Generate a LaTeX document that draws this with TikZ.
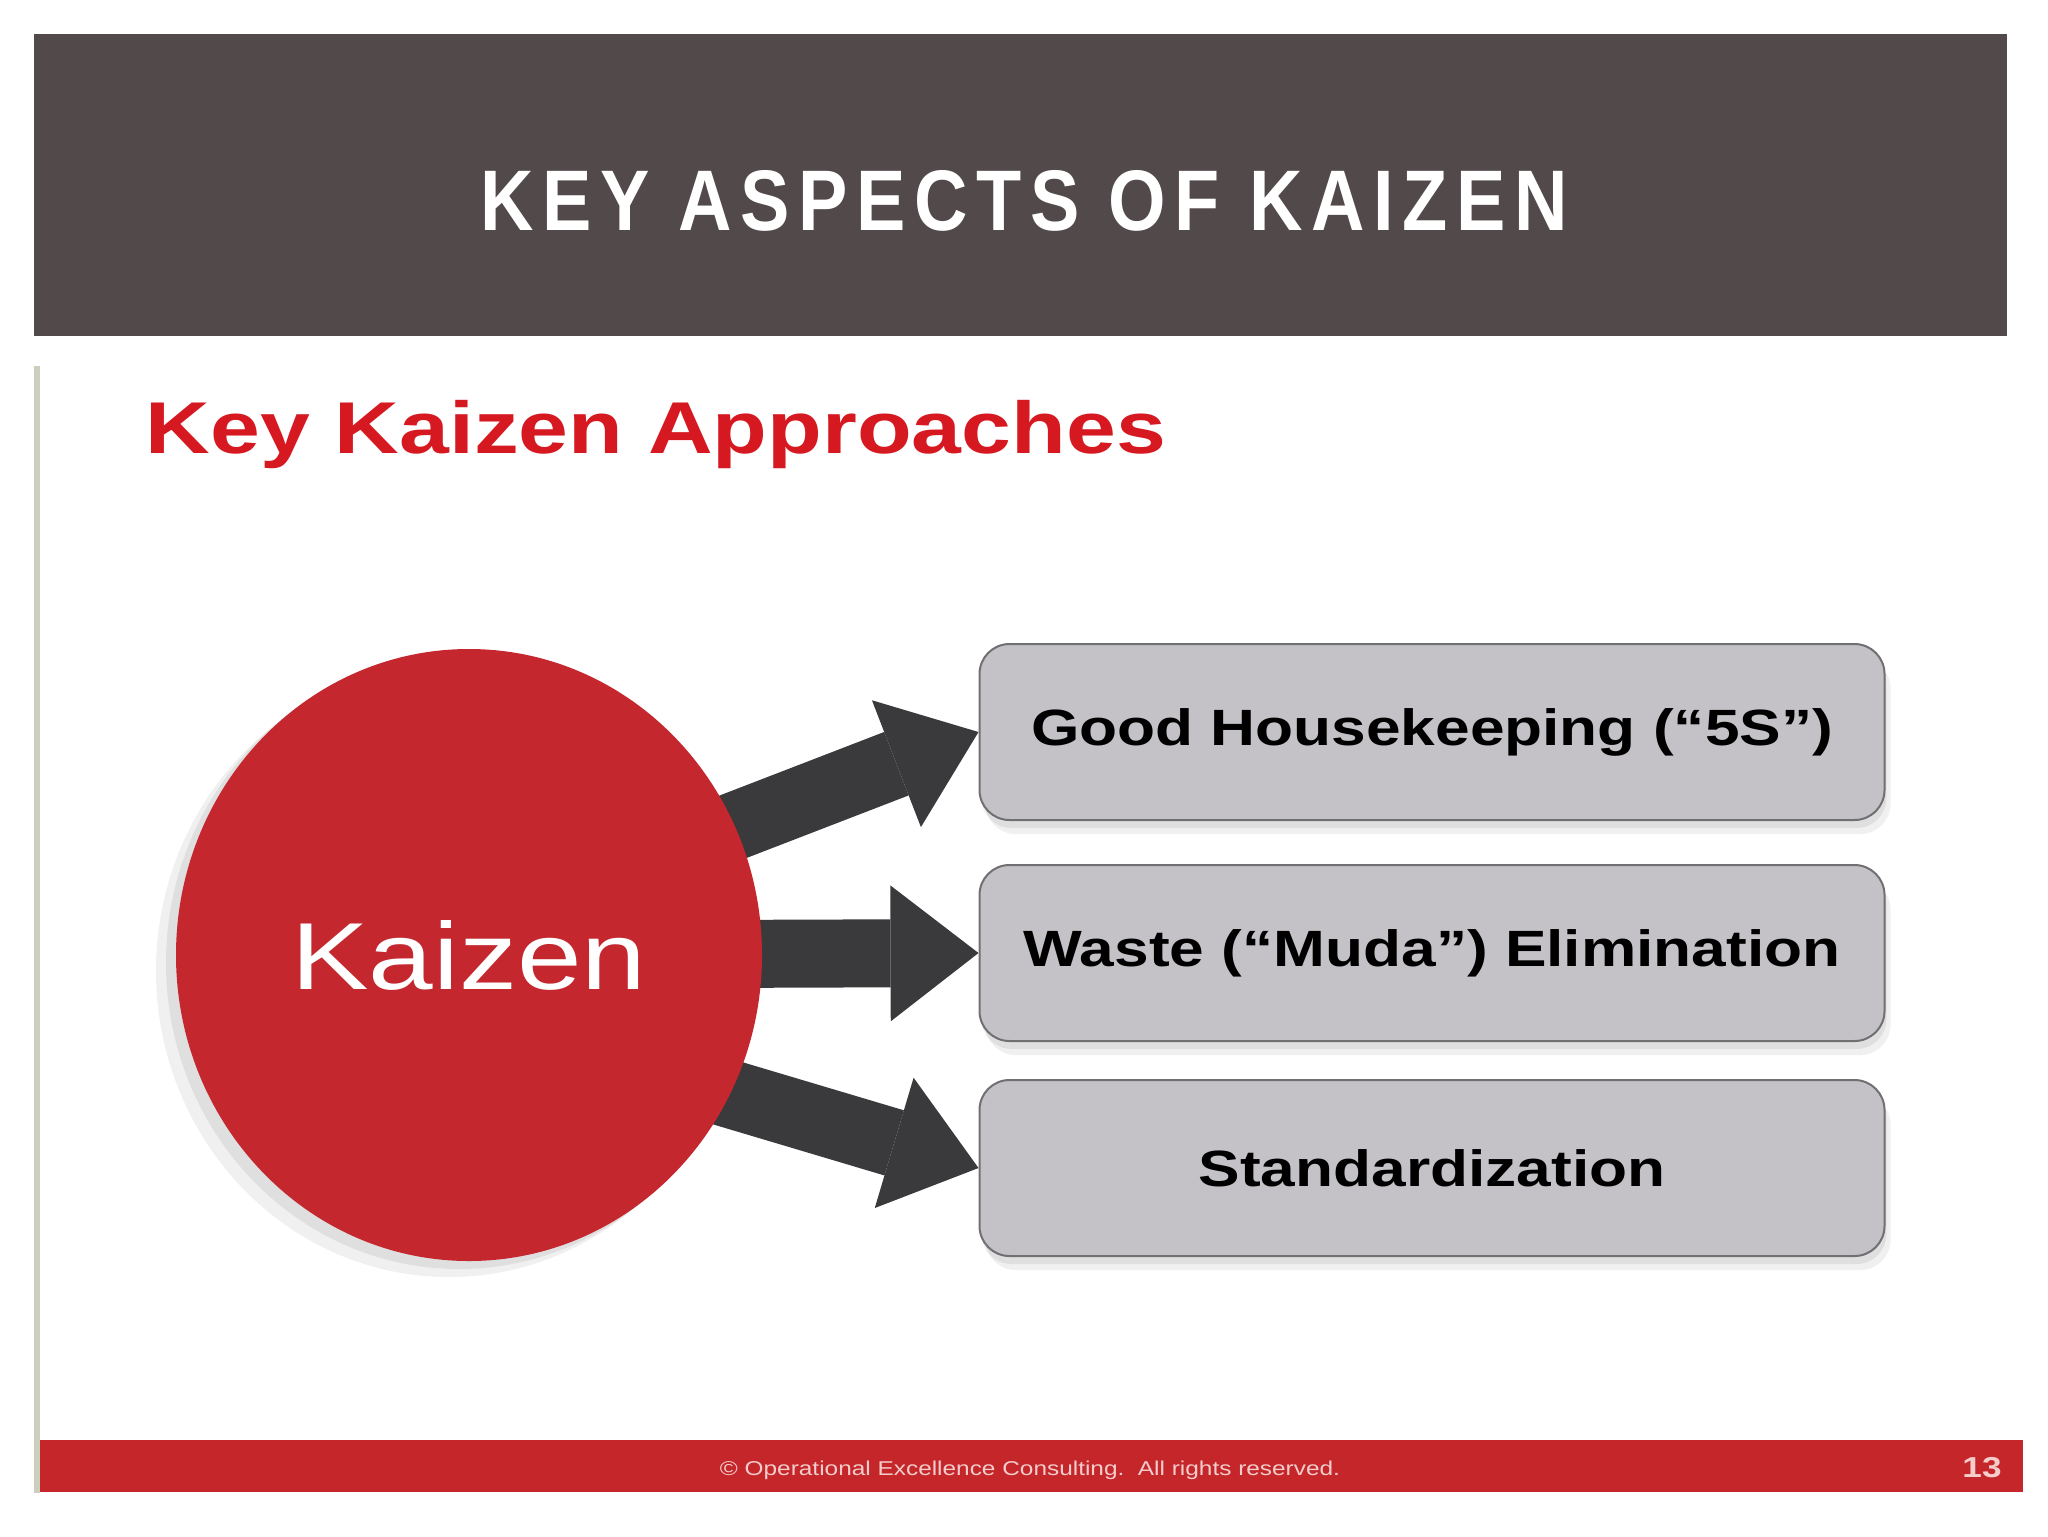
\documentclass[tikz,border=0pt]{standalone}
\usepackage{fontspec}
\setmainfont{Liberation Sans}
\newfontfamily\titlefont[FakeStretch=0.86,LetterSpace=10]{Liberation Sans}
\newfontfamily\widefont[FakeStretch=1.22]{Liberation Sans}
\usepackage{tikz}
\usetikzlibrary{arrows.meta,shapes.geometric,shadows}
\definecolor{slidegrey}{RGB}{82,73,74}
\definecolor{kaizenred}{RGB}{196,40,46}
\definecolor{headred}{RGB}{214,24,32}
\definecolor{footred}{RGB}{196,38,42}
\definecolor{footpink}{RGB}{244,204,204}
\definecolor{boxgrey}{RGB}{196,194,199}
\definecolor{boxline}{RGB}{112,112,114}
\definecolor{arrowgrey}{RGB}{58,57,60}
\definecolor{edgegreen}{RGB}{205,207,190}
\tikzset{every picture/.style={line width=0.75pt}}

\begin{document}
\begin{tikzpicture}[x=0.5pt,y=0.5pt,yscale=-1,xscale=1,
  approachbox/.style={draw=boxline,line width=1pt,fill=boxgrey,rounded corners=15pt,minimum width=452.5pt,minimum height=88pt,inner sep=0pt,font=\widefont\bfseries\fontsize{25.5}{30}\selectfont,drop shadow={shadow xshift=3pt,shadow yshift=-7pt,opacity=0.12},drop shadow={shadow xshift=1pt,shadow yshift=-4pt,opacity=0.15}},
  bigarrow/.style={draw=arrowgrey,line width=34pt,-{Triangle[length=44pt,width=68pt,line width=0pt]}}]
\useasboundingbox (0,0) rectangle (2048,1536);

%Shape: Rectangle [title bar]
\fill [slidegrey] (34,34) rectangle (2007,336) ;
\node [text=white,font=\titlefont\bfseries\fontsize{43}{50}\selectfont] (title) at (1024,201) {KEY ASPECTS OF KAIZEN};

%Shape: Rectangle [left edge of slide picture]
\fill [edgegreen] (34,366) rectangle (40,1493) ;
%Shape: Rectangle [footer]
\fill [footred] (40,1440) rectangle (2023,1492) ;
\node [text=footpink,font=\widefont\fontsize{10}{12}\selectfont] (copyright) at (1030,1470) {© Operational Excellence Consulting.\ \ All rights reserved.};
\node [text=footpink,font=\widefont\bfseries\fontsize{14.4}{16}\selectfont] (pageno) at (1982,1468) {13};

%Text [heading]
\node [anchor=base west,inner sep=0pt,text=headred,font=\widefont\bfseries\fontsize{36.7}{44}\selectfont] (heading) at (145,453) {Key Kaizen Approaches};

%Boxes
\node [approachbox] (housekeeping) at (1432,732) {Good Housekeeping (“5S”)};
\node [approachbox] (muda) at (1432,953) {Waste (“Muda”) Elimination};
\node [approachbox] (standard) at (1432,1168) {Standardization};

%Arrows
\coordinate (k1) at (700,839.5);
\coordinate (k2) at (700,954);
\coordinate (k3) at (700,1085);
\draw [bigarrow] (k1) -- (housekeeping.west) ;
\draw [bigarrow] (k2) -- (muda.west) ;
\draw [bigarrow] (k3) -- (standard.west) ;

%Shape: Circle
\node [ellipse,fill=kaizenred,minimum width=293pt,minimum height=306pt,inner sep=0pt,text=white,font=\widefont\fontsize{47.6}{56}\selectfont,
  drop shadow={shadow xshift=-10pt,shadow yshift=-8pt,opacity=0.12},drop shadow={shadow xshift=-5pt,shadow yshift=-4pt,opacity=0.15}] (kaizen) at (469,955) {Kaizen};
\end{tikzpicture}
\end{document}
